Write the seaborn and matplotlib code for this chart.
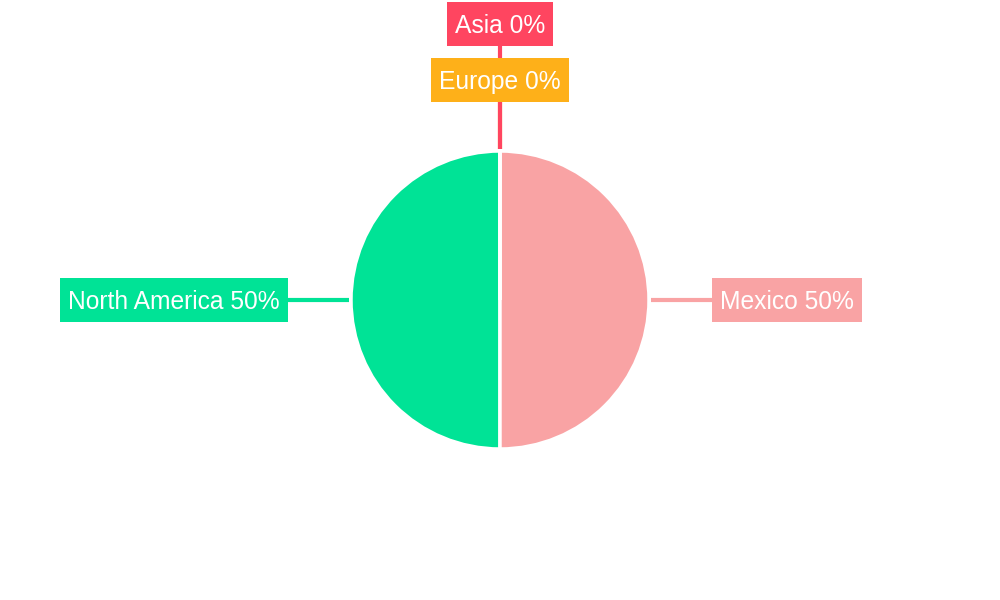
import numpy as np
import matplotlib.pyplot as plt
import seaborn as sns
from matplotlib.patches import Rectangle

# Data
regions = ["North America", "Mexico", "Europe", "Asia"]
shares = [50, 50, 0, 0]
colors = ["#00E396", "#F9A3A4", "#FEB019", "#FF4560"]

sns.set_style("white")
plt.rcParams['font.family'] = ['Liberation Sans', 'DejaVu Sans']

fig = plt.figure(figsize=(10, 6), dpi=100)
ax = fig.add_axes([0, 0, 1, 1])

cx, cy, r = 500, 300, 149
wedges, _ = ax.pie(
    shares,
    colors=colors,
    startangle=90,
    counterclock=True,
    center=(cx, cy),
    radius=r,
    wedgeprops=dict(edgecolor='white', linewidth=2.5)
)
ax.set_xlim(0, 1000)
ax.set_ylim(0, 600)
ax.set_aspect('equal')
ax.axis('off')

# Labels with connector lines, stacked when slices share an angle
dist = r + 71
stack = {}
labels = []
for w, name, val, col in zip(wedges, regions, shares, colors):
    mid = ((w.theta1 + w.theta2) / 2) % 360
    key = round(mid)
    k = stack.get(key, 0)
    stack[key] = k + 1
    d = dist + 56 * k
    ux, uy = np.cos(np.radians(mid)), np.sin(np.radians(mid))
    ax.plot([cx + (r + 2) * ux, cx + d * ux], [cy + (r + 2) * uy, cy + d * uy],
            color=col, lw=3, zorder=1 + k, solid_capstyle='butt')
    if abs(ux) > 0.5:
        ha = 'left' if ux > 0 else 'right'
    else:
        ha = 'center'
    t = ax.text(cx + d * ux, cy + d * uy - 2, f"{name} {val}%", ha=ha, va='center',
                fontsize=17.7, color='white', zorder=6)
    labels.append((t, col, cy + d * uy))

# coloured boxes behind labels (axes units equal pixels here)
fig.canvas.draw()
renderer = fig.canvas.get_renderer()
inv = ax.transData.inverted()
for t, col, yc in labels:
    bb = t.get_window_extent(renderer)
    (x0, _), (x1, _) = inv.transform([(bb.x0, bb.y0), (bb.x1, bb.y1)])
    ax.add_patch(Rectangle((x0 - 8, yc - 22), (x1 - x0) + 16, 44,
                           facecolor=col, edgecolor='none', zorder=5))

fig.savefig("out.png", dpi=100)
